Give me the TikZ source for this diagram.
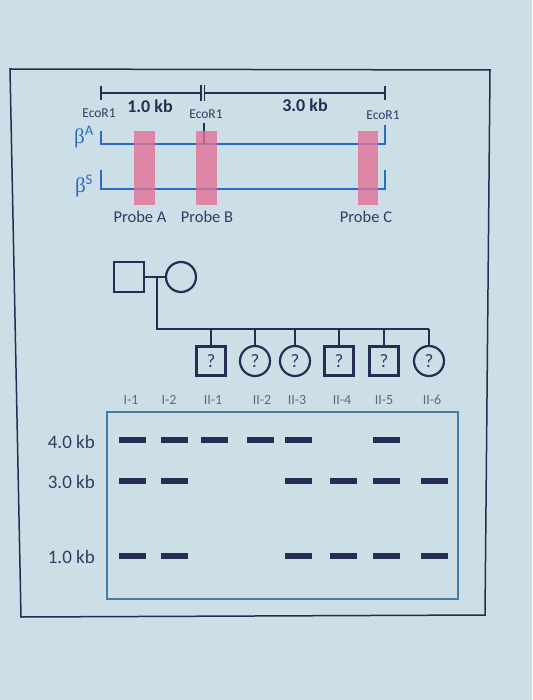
\documentclass[tikz,border=0pt]{standalone}
\usepackage{fontspec}
\setmainfont{Carlito}
\newfontfamily\betafont{Liberation Serif}
\usetikzlibrary{calc}
\definecolor{bgc}{RGB}{204,223,231}
\definecolor{navy}{RGB}{38,44,82}
\definecolor{gblue}{RGB}{45,105,200}
\definecolor{pinkc}{RGB}{226,112,150}
\definecolor{gelc}{RGB}{70,125,165}
\definecolor{labc}{RGB}{50,60,100}
\definecolor{lanec}{RGB}{90,105,140}
\tikzset{
  frame/.style={draw=navy,line width=1.5pt},
  bar/.style={draw=navy,line width=2.8pt},
  gene/.style={draw=gblue,line width=2pt},
  probe/.style={fill=pinkc,fill opacity=0.8,draw=none},
  ped/.style={draw=navy,line width=2.2pt},
  male/.style={ped,rectangle,minimum size=30pt,inner sep=0pt},
  female/.style={ped,circle,minimum size=30pt,inner sep=0pt},
  kid/.style={minimum size=28pt,inner sep=0pt,font=\fontsize{19}{19}\selectfont,text=labc},
  band/.style={fill=navy,draw=none,rectangle,minimum width=27pt,minimum height=5.5pt,inner sep=0pt},
  eco/.style={font=\fontsize{13.5}{13.5}\selectfont,text=labc,inner sep=0pt},
  kb/.style={font=\fontsize{18}{18}\selectfont\bfseries,text=navy,inner sep=0pt},
  plab/.style={font=\fontsize{16.5}{16.5}\selectfont,text=labc,inner sep=0pt},
  lane/.style={font=\fontsize{14}{14}\selectfont,text=lanec,inner sep=0pt},
  size/.style={font=\fontsize{19}{19}\selectfont,text=labc,inner sep=0pt,anchor=east},
  betal/.style={text=gblue,inner sep=0pt,font=\fontsize{21}{21}\selectfont},
}
\begin{document}
\begin{tikzpicture}[x=1pt,y=-1pt]
\fill[bgc] (0,0) rectangle (532,700);
\useasboundingbox (0,0) rectangle (532,700);
\coordinate (fa) at (10,69);
\coordinate (fb) at (490,70);
\coordinate (fc) at (485,615);
\coordinate (fd) at (21,617);
\draw[frame] (fa) -- (fb) -- (fc) -- (fd) -- cycle;
% scale bar
\coordinate (e1) at (101,93);
\coordinate (e2a) at (201,93);
\coordinate (e2b) at (204.5,93);
\coordinate (e3) at (385,93);
\draw[bar] (e1) -- (e2a);
\draw[bar] (e2b) -- (e3);
\foreach \c in {e1,e3} \draw[navy,line width=2pt] ($(\c)+(0,-7)$) -- ($(\c)+(0,7)$);
\foreach \c in {e2a,e2b} \draw[navy,line width=1.6pt] ($(\c)+(0,-8)$) -- ($(\c)+(0,8)$);
\node[kb] (l1) at (150,106) {1.0 kb};
\node[kb] (l3) at (305,105) {3.0 kb};
\node[eco] (r1) at (99,113) {EcoR1};
\node[eco] (r2) at (206,114) {EcoR1};
\node[eco] (r3) at (383,115) {EcoR1};
% genes
\draw[gene] (101,131) -- (101,144) -- (385,144) -- (385,125);
\draw[navy,line width=1.4pt] (204,123) -- (204,144);
\draw[gene] (101,170) -- (101,189) -- (385,189) -- (385,170);
\node[betal] (ba) at (84,137) {{\betafont β}\textsuperscript{A}};
\node[betal] (bs) at (84,186) {{\betafont β}\textsuperscript{S}};
\fill[probe] (134,131) rectangle (155,205);
\fill[probe] (196,131) rectangle (217,205);
\fill[probe] (358,131) rectangle (378,205);
\node[plab] (pa) at (140,217) {Probe A};
\node[plab] (pb) at (207,217) {Probe B};
\node[plab] (pc) at (366,217) {Probe C};
% pedigree
\node[male] (f) at (129,277) {};
\node[female] (m) at (181,277) {};
\draw[ped] (f.east) -- (m.west);
\coordinate (d0) at (157,277);
\coordinate (d1) at (157,329);
\coordinate (d2) at (429,329);
\draw[ped] (d0) -- (d1) -- (d2);
\node[kid,male,minimum size=29pt] (c1) at (211,361) {?};
\node[kid,female] (c2) at (255,361) {?};
\node[kid,female] (c3) at (295,361) {?};
\node[kid,male,minimum size=29pt] (c4) at (339,361) {?};
\node[kid,male,minimum size=29pt] (c5) at (384,361) {?};
\node[kid,female] (c6) at (429,361) {?};
\foreach \k in {c1,c2,c3,c4,c5,c6} \draw[ped] (d1 -| \k) -- (\k.north);
% lanes
\foreach \x/\t [count=\i] in {131/I-1,169/I-2,213/II-1,262/II-2,297/II-3,342/II-4,384/II-5,432/II-6}
  \node[lane] (t\i) at (\x,400) {\t};
% gel
\draw[gelc,line width=1.2pt] (107,412) rectangle (458,599);
\node[size] (s4) at (95,442) {4.0 kb};
\node[size] (s3) at (95,482) {3.0 kb};
\node[size] (s1) at (95,557) {1.0 kb};
\foreach \x in {132,174,214,260,298,386} \node[band] at (\x,440) {};
\foreach \x in {132,174,298,343,386,434} \node[band] at (\x,481) {};
\foreach \x in {132,174,298,343,386,434} \node[band] at (\x,556) {};
\end{tikzpicture}
\end{document}
